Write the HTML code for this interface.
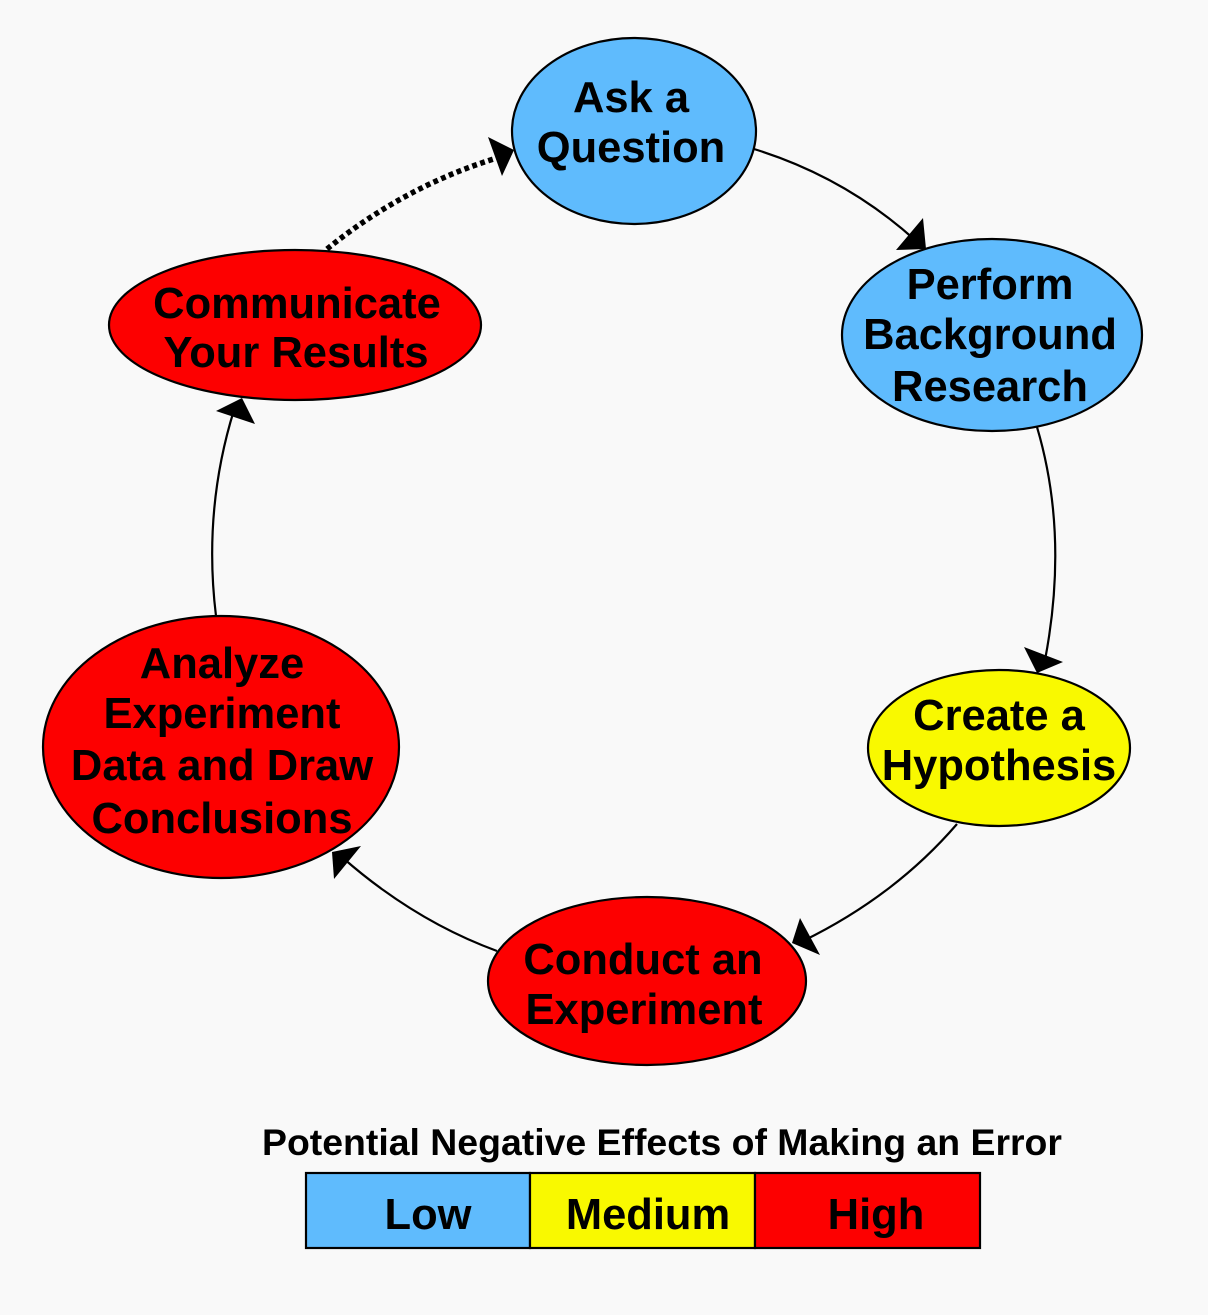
<!DOCTYPE html>
<html><head><meta charset="utf-8"><style>
html,body{margin:0;padding:0;background:#f9f9f9}
svg{display:block}
text{font-family:"Liberation Sans",sans-serif;font-weight:bold;font-size:43.5px;fill:#000;text-anchor:middle}
</style></head><body>
<svg width="1208" height="1315" viewBox="0 0 1208 1315" xmlns="http://www.w3.org/2000/svg">
<rect width="1208" height="1315" fill="#f9f9f9"/>
<g fill="none" stroke="#000" stroke-width="2.2">
<path d="M754 149Q845 177 915 240"/>
<path d="M1037 427Q1069 535 1045 660"/>
<path d="M957 824Q895 896 803 941"/>
<path d="M497 951Q415 921 343 858"/>
<path d="M216 616Q203 510 234 410"/>
</g>
<path d="M327 249Q405 186 497 158" fill="none" stroke="#000" stroke-width="5.5" stroke-dasharray="4.8 3.6"/>
<g fill="#000">
<polygon points="926,249 896,250 923,218"/>
<polygon points="1037,673 1024,647 1063,662"/>
<polygon points="792,943 800,918 820,955"/>
<polygon points="332,852 361,846 334,879"/>
<polygon points="242,398 216,411 255,424"/>
<polygon points="514,150 488,137 502,176"/>
</g>
<g stroke="#000" stroke-width="2.2">
<ellipse cx="634" cy="131" rx="122" ry="93" fill="#5fbbfd"/>
<ellipse cx="992" cy="335" rx="150" ry="96" fill="#5fbbfd"/>
<ellipse cx="999" cy="748" rx="131" ry="78" fill="#f9f900"/>
<ellipse cx="647" cy="981" rx="159" ry="84" fill="#fd0000"/>
<ellipse cx="221" cy="747" rx="178" ry="131" fill="#fd0000"/>
<ellipse cx="295" cy="325" rx="186" ry="75" fill="#fd0000"/>
<rect x="306" y="1173" width="224" height="75" fill="#5fbbfd"/>
<rect x="530" y="1173" width="225" height="75" fill="#f9f900"/>
<rect x="755" y="1173" width="225" height="75" fill="#fd0000"/>
</g>
<text x="631" y="112">Ask a</text>
<text x="631" y="162">Question</text>
<text x="990" y="299">Perform</text>
<text x="990" y="349">Background</text>
<text x="990" y="401">Research</text>
<text x="999" y="730">Create a</text>
<text x="999" y="780">Hypothesis</text>
<text x="643" y="974">Conduct an</text>
<text x="644" y="1024">Experiment</text>
<text x="222" y="678">Analyze</text>
<text x="222" y="728">Experiment</text>
<text x="222" y="780">Data and Draw</text>
<text x="222" y="833">Conclusions</text>
<text x="297" y="318">Communicate</text>
<text x="296" y="367">Your Results</text>
<text x="662" y="1155" style="font-size:37.4px">Potential Negative Effects of Making an Error</text>
<text x="428" y="1229">Low</text>
<text x="648" y="1229">Medium</text>
<text x="876" y="1229">High</text>
</svg>
</body></html>
